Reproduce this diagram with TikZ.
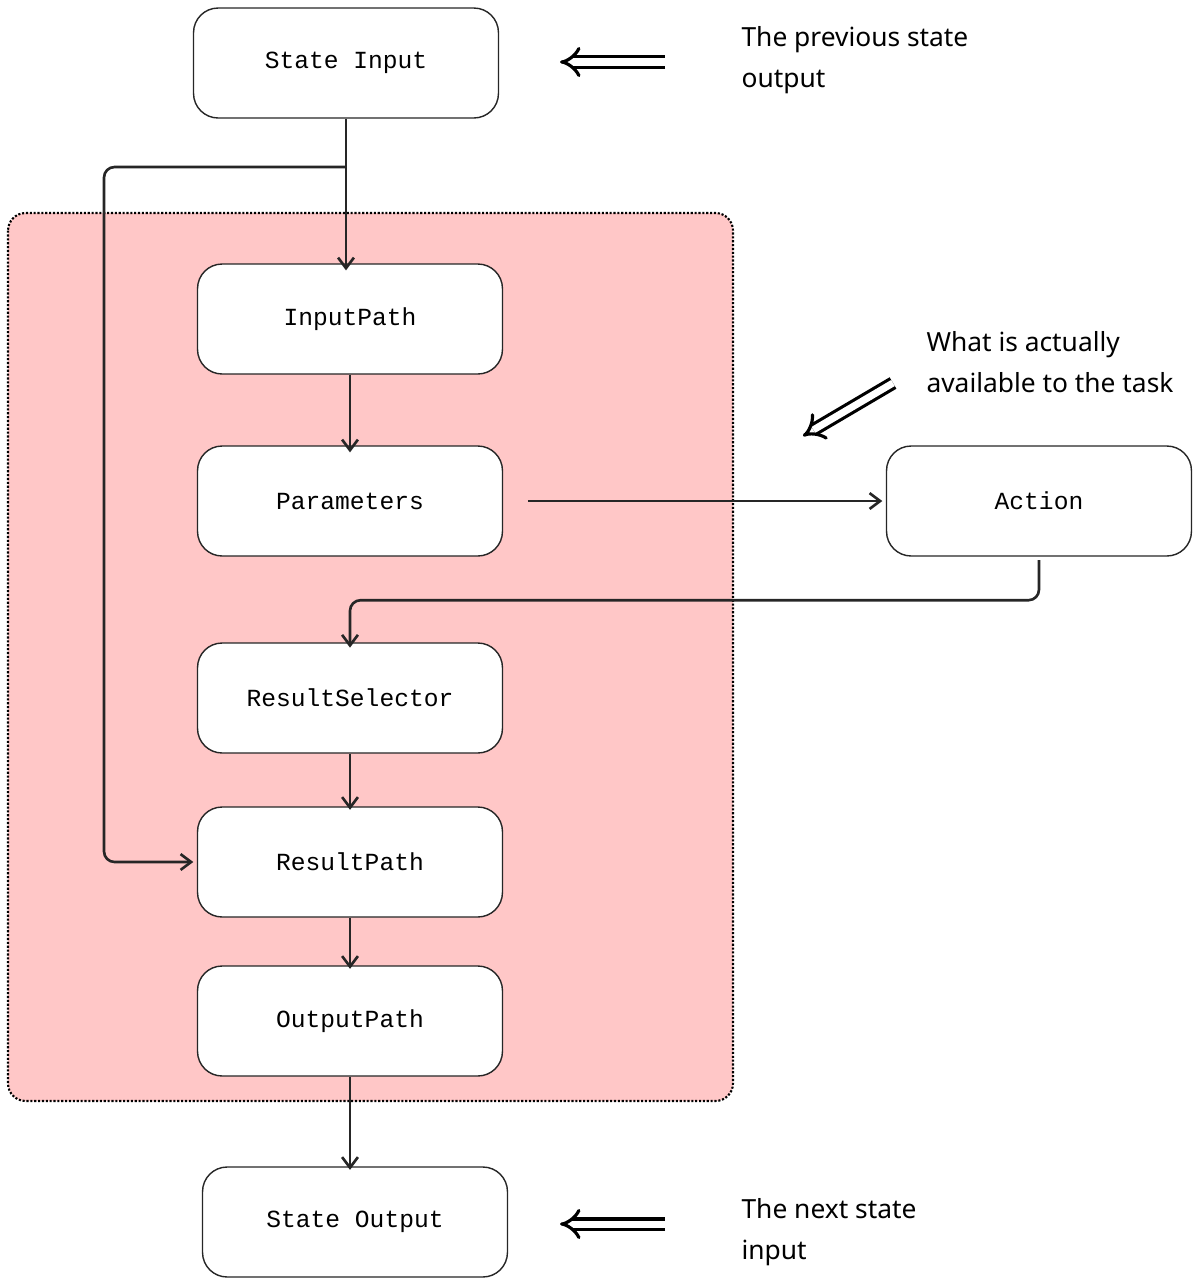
\documentclass[tikz,border=0pt]{standalone}
\usepackage{fontspec}
\setmainfont{Noto Sans}
\newfontfamily\boxfont{Liberation Mono}
\usetikzlibrary{arrows,arrows.meta,positioning}
\begin{document}
\begin{tikzpicture}[x=0.02cm,y=-0.02cm,>={Straight Barb[length=6pt,width=9pt]},thick]
        \tikzstyle{stage}=[draw=black!85,fill=white,rounded corners=14pt,minimum width=6.1cm,minimum height=2.2cm,font=\boxfont\fontsize{14}{16}\selectfont]
        \tikzstyle{note}=[align=left,anchor=north west,font=\fontsize{15}{23}\selectfont]
        \tikzstyle{link}=[->,draw=black!85,line width=1.5pt]
        \tikzstyle{pointer}=[double equal sign distance,-Implies,line width=1.8pt,double distance=4pt]
        \useasboundingbox (0,0) rectangle (1200,1286);

        % Shaded region for the state
        \draw[fill=red!22,densely dotted,rounded corners=10pt,line width=1.2pt] (8,213) rectangle (733,1101);

        % Boxes
        \node[stage] (in) at (346,63) {State Input};
        \node[stage] (ip) at (350,319) {InputPath};
        \node[stage] (pa) at (350,501) {Parameters};
        \node[stage] (rs) at (350,698) {ResultSelector};
        \node[stage] (rp) at (350,862) {ResultPath};
        \node[stage] (op) at (350,1021) {OutputPath};
        \node[stage] (out) at (355,1222) {State Output};
        \node[stage] (act) at (1039,501) {Action};

        % Connections
        \draw[link] (in.south) -- ([yshift=-4pt]in.south |- ip.north);
        \draw[link] (ip.south) -- ([yshift=-4pt]pa.north);
        \draw[link] (rs.south) -- ([yshift=-2pt]rp.north);
        \draw[link] (rp.south) -- ([yshift=-2pt]op.north);
        \draw[link] (op.south) -- ([yshift=-2pt]op.south |- out.north);
        \draw[link] ([xshift=14pt]pa.east) -- ([xshift=-2pt]act.west);
        \draw[link,rounded corners=6pt] ([yshift=-2pt]act.south) -- ++(0,40) -| ([yshift=-3pt]rs.north);
        \draw[link,rounded corners=6pt] (in.south |- 0,167) coordinate (split) -- (104,167) -- (104,862) -- ([xshift=-2pt]rp.west);

        % Annotations
        \node[note] (n1) at (735,20) {The previous state\\output};
        \node[note] (n2) at (920,325) {What is actually\\available to the task};
        \node[note] (n3) at (735,1192) {The next state\\input};
        \coordinate (a1) at (665,62);
        \coordinate (a2) at (560,62);
        \coordinate (b1) at (893,383);
        \coordinate (b2) at (803,436);
        \coordinate (c1) at (665,1224);
        \coordinate (c2) at (560,1224);
        \draw[pointer] (a1) -- (a2);
        \draw[pointer] (b1) -- (b2);
        \draw[pointer] (c1) -- (c2);
\end{tikzpicture}
\end{document}
